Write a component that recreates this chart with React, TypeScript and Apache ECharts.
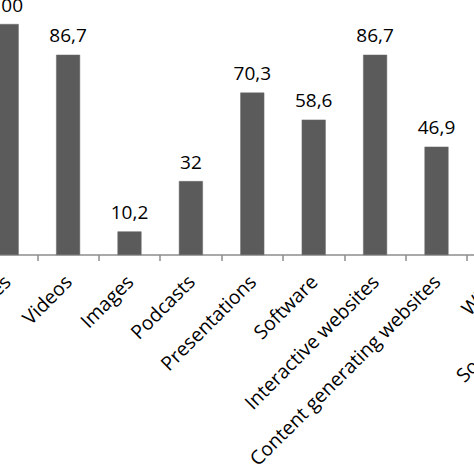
import React, { useEffect, useRef } from "react";
import * as echarts from "echarts";

const categories = [
  "Articles",
  "Videos",
  "Images",
  "Podcasts",
  "Presentations",
  "Software",
  "Interactive websites",
  "Content generating websites",
  "Wikis",
  "Social networks",
];
const values = [100, 86.7, 10.2, 32, 70.3, 58.6, 86.7, 46.9, 40, 60];

export default function App() {
  const ref = useRef<HTMLDivElement>(null);
  useEffect(() => {
    if (!ref.current) return;
    const chart = echarts.init(ref.current, null, { renderer: "svg" });
    chart.setOption({
      animation: false,
      backgroundColor: "#ffffff",
      textStyle: { fontFamily: "Open Sans" },
      grid: {
        left: -24,
        width: 614,
        top: 24,
        height: 231,
        containLabel: false,
        outerBoundsMode: "none",
      },
      xAxis: {
        type: "category",
        data: categories,
        axisLine: { show: true, lineStyle: { color: "#8c8c8c", width: 1.5 } },
        axisTick: { show: true, length: 6, alignWithLabel: false, lineStyle: { color: "#8c8c8c", width: 1.5 } },
        axisLabel: {
          rotate: 45,
          margin: 23,
          interval: 0,
          fontSize: 19.5,
          color: "#000000",
          fontFamily: "Open Sans",
        },
      },
      yAxis: {
        type: "value",
        min: 0,
        max: 100,
        show: false,
        splitLine: { show: false },
      },
      series: [
        {
          type: "bar",
          data: values,
          barWidth: 24,
          itemStyle: { color: "#5b5b5b", borderColor: "#6a6a6a", borderWidth: 0.5 },
          label: {
            show: true,
            position: "top",
            distance: 10,
            fontSize: 19,
            color: "#000000",
            fontFamily: "Open Sans",
            formatter: (p: any) => String(p.value).replace(".", ","),
          },
        },
      ],
    });
    return () => chart.dispose();
  }, []);
  return (
    <div
      ref={ref}
      style={{ position: "fixed", left: 0, top: 0, width: 474, height: 474 }}
    />
  );
}
